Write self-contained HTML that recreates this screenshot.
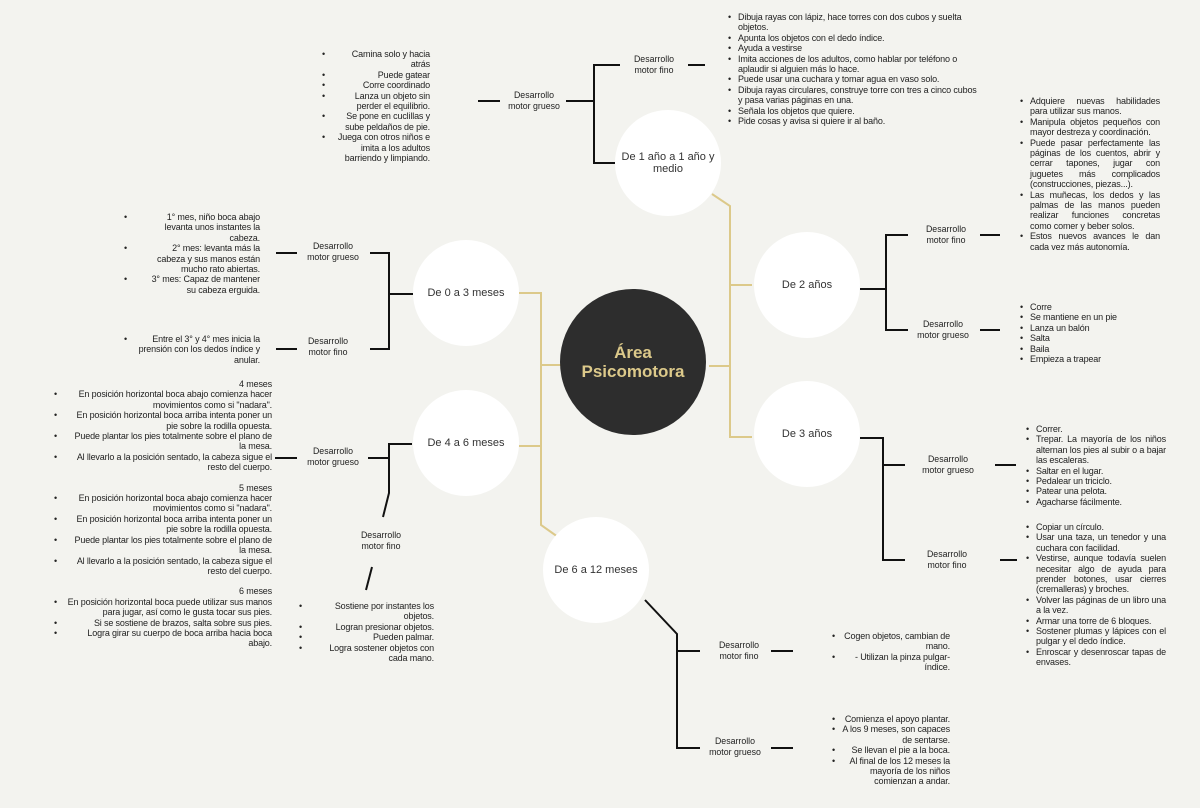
<!DOCTYPE html>
<html><head><meta charset="utf-8"><style>
*{margin:0;padding:0;box-sizing:border-box}
body{width:1200px;height:808px;background:#f3f3ef;position:relative;overflow:hidden;font-family:"Liberation Sans",sans-serif;color:#222}
.c{position:absolute;border-radius:50%;background:#fff;display:flex;align-items:center;justify-content:center;text-align:center;font-size:11px;color:#333}
.lbl{position:absolute;font-size:8.8px;text-align:center;line-height:11px;transform:translate(-50%,-50%);white-space:nowrap}
.t{position:absolute;font-size:9px;line-height:10.4px;letter-spacing:-0.15px}
.t ul{list-style:none}
.t li{display:flex;justify-content:space-between}
.t li b{font-weight:normal;flex:0 0 auto}
.r li span{text-align:right}
.j li span{text-align:justify}
.h{text-align:right}
svg{position:absolute;left:0;top:0}
</style></head><body>
<svg width="1200" height="808">
<g stroke="#dcc98a" stroke-width="2" fill="none">
<polyline points="519,293 541,293 541,525 558,537"/>
<line x1="519" y1="446" x2="541" y2="446"/>
<line x1="541" y1="365" x2="563" y2="365"/>
<polyline points="712,194 730,206 730,437 752,437"/>
<line x1="730" y1="285" x2="752" y2="285"/>
<line x1="709" y1="366" x2="730" y2="366"/>
</g>
<g stroke="#111" stroke-width="2" fill="none">
<polyline points="620,65 594,65 594,163 615,163"/>
<line x1="566" y1="101" x2="594" y2="101"/>
<line x1="478" y1="101" x2="500" y2="101"/>
<line x1="688" y1="65" x2="705" y2="65"/>
<polyline points="370,253 389,253 389,349 370,349"/>
<line x1="389" y1="294" x2="413" y2="294"/>
<line x1="276" y1="253" x2="297" y2="253"/>
<line x1="276" y1="349" x2="297" y2="349"/>
<polyline points="412,444 389,444 389,493 383,517"/>
<line x1="368" y1="458" x2="389" y2="458"/>
<line x1="275" y1="458" x2="297" y2="458"/>
<line x1="372" y1="567" x2="366" y2="590"/>
<polyline points="645,600 677,634 677,748 700,748"/>
<line x1="677" y1="651" x2="700" y2="651"/>
<line x1="771" y1="651" x2="793" y2="651"/>
<line x1="771" y1="748" x2="793" y2="748"/>
<line x1="860" y1="289" x2="886" y2="289"/>
<polyline points="908,235 886,235 886,330 908,330"/>
<line x1="980" y1="235" x2="1000" y2="235"/>
<line x1="980" y1="330" x2="1000" y2="330"/>
<polyline points="860,438 883,438 883,560 905,560"/>
<line x1="883" y1="465" x2="905" y2="465"/>
<line x1="995" y1="465" x2="1016" y2="465"/>
<line x1="1000" y1="560" x2="1017" y2="560"/>
</g>
</svg>
<div class="c" style="left:560px;top:289px;width:146px;height:146px;background:#2d2d2d;color:#dcc98a;font-weight:bold;font-size:17px;line-height:19px">Área<br>Psicomotora</div>
<div class="c" style="left:615px;top:110px;width:106px;height:106px;line-height:12px">De 1 año a 1 año y<br>medio</div>
<div class="c" style="left:413px;top:240px;width:106px;height:106px">De 0 a 3 meses</div>
<div class="c" style="left:413px;top:390px;width:106px;height:106px">De 4 a 6 meses</div>
<div class="c" style="left:543px;top:517px;width:106px;height:106px">De 6 a 12 meses</div>
<div class="c" style="left:754px;top:232px;width:106px;height:106px">De 2 años</div>
<div class="c" style="left:754px;top:381px;width:106px;height:106px">De 3 años</div>

<div class="lbl" style="left:654px;top:65px">Desarrollo<br>motor fino</div>
<div class="lbl" style="left:534px;top:101px">Desarrollo<br>motor grueso</div>
<div class="lbl" style="left:333px;top:252px">Desarrollo<br>motor grueso</div>
<div class="lbl" style="left:328px;top:347px">Desarrollo<br>motor fino</div>
<div class="lbl" style="left:333px;top:457px">Desarrollo<br>motor grueso</div>
<div class="lbl" style="left:381px;top:541px">Desarrollo<br>motor fino</div>
<div class="lbl" style="left:739px;top:651px">Desarrollo<br>motor fino</div>
<div class="lbl" style="left:735px;top:747px">Desarrollo<br>motor grueso</div>
<div class="lbl" style="left:946px;top:235px">Desarrollo<br>motor fino</div>
<div class="lbl" style="left:943px;top:330px">Desarrollo<br>motor grueso</div>
<div class="lbl" style="left:948px;top:465px">Desarrollo<br>motor grueso</div>
<div class="lbl" style="left:947px;top:560px">Desarrollo<br>motor fino</div>

<div class="t r" style="left:322px;top:49px;width:108px"><ul>
<li><b>•</b><span style="width:98px">Camina solo y hacia atrás</span></li>
<li><b>•</b><span style="width:98px">Puede gatear</span></li>
<li><b>•</b><span style="width:98px">Corre coordinado</span></li>
<li><b>•</b><span style="width:98px">Lanza un objeto sin perder el equilibrio.</span></li>
<li><b>•</b><span style="width:98px">Se pone en cuclillas y sube peldaños de pie.</span></li>
<li><b>•</b><span style="width:98px">Juega con otros niños e imita a los adultos barriendo y limpiando.</span></li>
</ul></div>

<div class="t" style="left:728px;top:12px;width:250px"><ul>
<li><b>•</b><span style="width:240px">Dibuja rayas con lápiz, hace torres con dos cubos y suelta objetos.</span></li>
<li><b>•</b><span style="width:240px">Apunta los objetos con el dedo índice.</span></li>
<li><b>•</b><span style="width:240px">Ayuda a vestirse</span></li>
<li><b>•</b><span style="width:240px">Imita acciones de los adultos, como hablar por teléfono o aplaudir si alguien más lo hace.</span></li>
<li><b>•</b><span style="width:240px">Puede usar una cuchara y tomar agua en vaso solo.</span></li>
<li><b>•</b><span style="width:240px">Dibuja rayas circulares, construye torre con tres a cinco cubos y pasa varias páginas en una.</span></li>
<li><b>•</b><span style="width:240px">Señala los objetos que quiere.</span></li>
<li><b>•</b><span style="width:240px">Pide cosas y avisa si quiere ir al baño.</span></li>
</ul></div>

<div class="t r" style="left:124px;top:212px;width:136px"><ul>
<li><b>•</b><span style="width:112px">1° mes, niño boca abajo levanta unos instantes la cabeza.</span></li>
<li><b>•</b><span style="width:112px">2° mes: levanta más la cabeza y sus manos están mucho rato abiertas.</span></li>
<li><b>•</b><span style="width:112px">3° mes: Capaz de mantener su cabeza erguida.</span></li>
</ul></div>
<div class="t r" style="left:124px;top:334px;width:136px"><ul>
<li><b>•</b><span style="width:128px">Entre el 3° y 4° mes inicia la prensión con los dedos índice y anular.</span></li>
</ul></div>

<div class="t r" style="left:54px;top:379px;width:218px">
<div class="h">4 meses</div><ul>
<li><b>•</b><span style="width:205px">En posición horizontal boca abajo comienza hacer movimientos como si "nadara".</span></li>
<li><b>•</b><span style="width:205px">En posición horizontal boca arriba intenta poner un pie sobre la rodilla opuesta.</span></li>
<li><b>•</b><span style="width:205px">Puede plantar los pies totalmente sobre el plano de la mesa.</span></li>
<li><b>•</b><span style="width:205px">Al llevarlo a la posición sentado, la cabeza sigue el resto del cuerpo.</span></li></ul>
<div class="h" style="margin-top:10px">5 meses</div><ul>
<li><b>•</b><span style="width:205px">En posición horizontal boca abajo comienza hacer movimientos como si "nadara".</span></li>
<li><b>•</b><span style="width:205px">En posición horizontal boca arriba intenta poner un pie sobre la rodilla opuesta.</span></li>
<li><b>•</b><span style="width:205px">Puede plantar los pies totalmente sobre el plano de la mesa.</span></li>
<li><b>•</b><span style="width:205px">Al llevarlo a la posición sentado, la cabeza sigue el resto del cuerpo.</span></li></ul>
<div class="h" style="margin-top:10px">6 meses</div><ul>
<li><b>•</b><span style="width:205px">En posición horizontal boca puede utilizar sus manos para jugar, así como le gusta tocar sus pies.</span></li>
<li><b>•</b><span style="width:205px">Si se sostiene de brazos, salta sobre sus pies.</span></li>
<li><b>•</b><span style="width:205px">Logra girar su cuerpo de boca arriba hacia boca abajo.</span></li></ul>
</div>

<div class="t r" style="left:299px;top:601px;width:135px"><ul>
<li><b>•</b><span style="width:120px">Sostiene por instantes los objetos.</span></li>
<li><b>•</b><span style="width:120px">Logran presionar objetos.</span></li>
<li><b>•</b><span style="width:120px">Pueden palmar.</span></li>
<li><b>•</b><span style="width:120px">Logra sostener objetos con cada mano.</span></li>
</ul></div>

<div class="t r" style="left:832px;top:631px;width:118px"><ul>
<li><b>•</b><span style="width:114px">Cogen objetos, cambian de mano.</span></li>
<li><b>•</b><span style="width:114px">- Utilizan la pinza pulgar-índice.</span></li>
</ul></div>
<div class="t r" style="left:832px;top:714px;width:118px"><ul>
<li><b>•</b><span style="width:114px">Comienza el apoyo plantar.</span></li>
<li><b>•</b><span style="width:114px">A los 9 meses, son capaces de sentarse.</span></li>
<li><b>•</b><span style="width:114px">Se llevan el pie a la boca.</span></li>
<li><b>•</b><span style="width:114px">Al final de los 12 meses la mayoría de los niños comienzan a andar.</span></li>
</ul></div>

<div class="t j" style="left:1020px;top:96px;width:140px"><ul>
<li><b>•</b><span style="width:130px">Adquiere nuevas habilidades para utilizar sus manos.</span></li>
<li><b>•</b><span style="width:130px">Manipula objetos pequeños con mayor destreza y coordinación.</span></li>
<li><b>•</b><span style="width:130px">Puede pasar perfectamente las páginas de los cuentos, abrir y cerrar tapones, jugar con juguetes más complicados (construcciones, piezas...).</span></li>
<li><b>•</b><span style="width:130px">Las muñecas, los dedos y las palmas de las manos pueden realizar funciones concretas como comer y beber solos.</span></li>
<li><b>•</b><span style="width:130px">Estos nuevos avances le dan cada vez más autonomía.</span></li>
</ul></div>
<div class="t" style="left:1020px;top:302px;width:140px"><ul>
<li><b>•</b><span style="width:130px">Corre</span></li>
<li><b>•</b><span style="width:130px">Se mantiene en un pie</span></li>
<li><b>•</b><span style="width:130px">Lanza un balón</span></li>
<li><b>•</b><span style="width:130px">Salta</span></li>
<li><b>•</b><span style="width:130px">Baila</span></li>
<li><b>•</b><span style="width:130px">Empieza a trapear</span></li>
</ul></div>

<div class="t j" style="left:1026px;top:424px;width:140px"><ul>
<li><b>•</b><span style="width:130px">Correr.</span></li>
<li><b>•</b><span style="width:130px">Trepar. La mayoría de los niños alternan los pies al subir o a bajar las escaleras.</span></li>
<li><b>•</b><span style="width:130px">Saltar en el lugar.</span></li>
<li><b>•</b><span style="width:130px">Pedalear un triciclo.</span></li>
<li><b>•</b><span style="width:130px">Patear una pelota.</span></li>
<li><b>•</b><span style="width:130px">Agacharse fácilmente.</span></li>
</ul></div>
<div class="t j" style="left:1026px;top:522px;width:140px"><ul>
<li><b>•</b><span style="width:130px">Copiar un círculo.</span></li>
<li><b>•</b><span style="width:130px">Usar una taza, un tenedor y una cuchara con facilidad.</span></li>
<li><b>•</b><span style="width:130px">Vestirse, aunque todavía suelen necesitar algo de ayuda para prender botones, usar cierres (cremalleras) y broches.</span></li>
<li><b>•</b><span style="width:130px">Volver las páginas de un libro una a la vez.</span></li>
<li><b>•</b><span style="width:130px">Armar una torre de 6 bloques.</span></li>
<li><b>•</b><span style="width:130px">Sostener plumas y lápices con el pulgar y el dedo índice.</span></li>
<li><b>•</b><span style="width:130px">Enroscar y desenroscar tapas de envases.</span></li>
</ul></div>
</body></html>
